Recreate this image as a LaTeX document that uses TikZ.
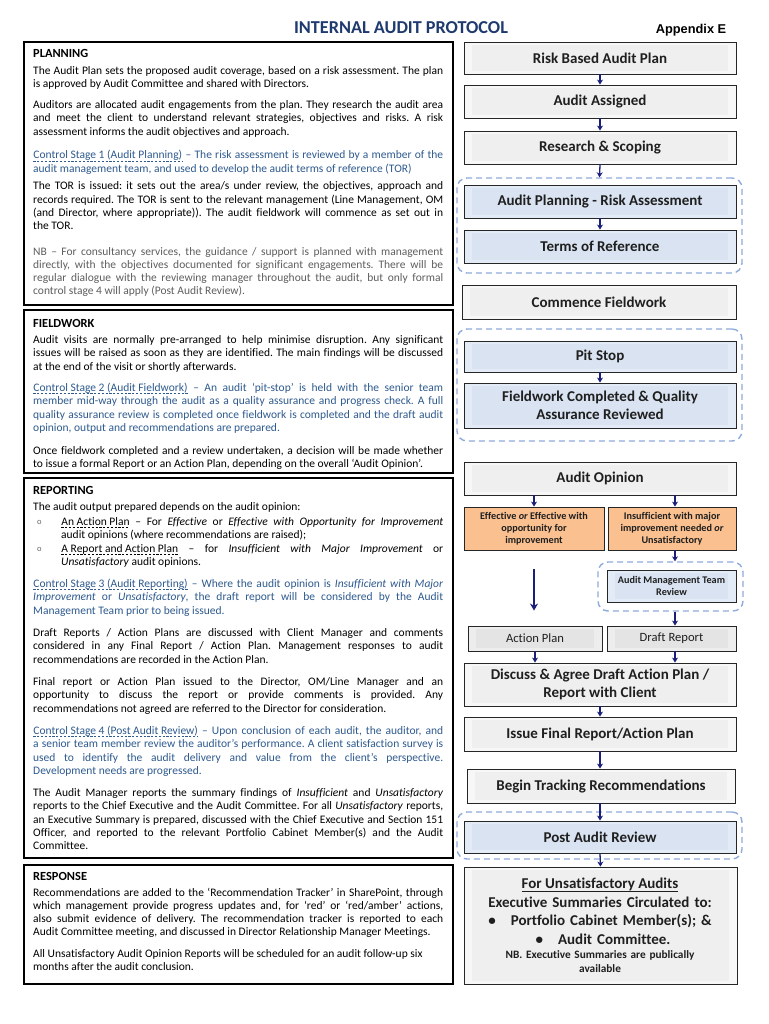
\documentclass[tikz,border=0pt]{standalone}
\usepackage{fontspec}
\setmainfont{Carlito}[Ligatures=NoCommon]
\newfontfamily\arialfont{Liberation Sans}
\usetikzlibrary{arrows.meta,calc}
\definecolor{ctrlblue}{HTML}{2E5A8E}
\definecolor{nbgray}{HTML}{5E5E5E}
\definecolor{titleblue}{HTML}{1F3A6E}
\definecolor{arrnavy}{HTML}{1A1F7A}
\definecolor{grpblue}{HTML}{8FAADC}
\definecolor{grayout}{HTML}{F7F7F7}
\definecolor{grayin}{HTML}{EFEFEF}
\definecolor{blueout}{HTML}{E3EBF6}
\definecolor{bluein}{HTML}{D9E3F1}
\definecolor{boxorange}{HTML}{FAC090}
\definecolor{midout}{HTML}{EDEDED}
\definecolor{midin}{HTML}{E4E4E4}
\newcommand\bodysize{\fontsize{11.5}{13.3}\selectfont\frenchspacing}
\newcommand\dul[2][ctrlblue]{\tikz[baseline=(u.base)]{\node[inner sep=0pt,outer sep=0pt,anchor=base,text width={},align=none,minimum width=0pt,minimum height=0pt,draw=none,fill=none](u){#2};\draw[draw=#1,dash pattern=on 2.2pt off 1.6pt,line width=0.5pt]([yshift=-2pt]u.base west)--([yshift=-2pt]u.base east);}}
\newcommand\sul[1]{\tikz[baseline=(u.base)]{\node[inner sep=0pt,outer sep=0pt,anchor=base,text width={},align=none,minimum width=0pt,minimum height=0pt,draw=none,fill=none,path picture={}](u){#1};\draw[draw=black!88,line width=0.9pt]([yshift=-2.6pt]u.base west)--([yshift=-2.6pt]u.base east);}}
\begin{document}
\begin{tikzpicture}[x=1pt,y=-1pt,
  panel/.style={draw=black, line width=1.1pt},
  head/.style={anchor=base west, inner sep=0pt, font=\fontsize{12.4}{14}\selectfont\bfseries},
  body/.style={anchor=base west, inner sep=0pt, text width=410pt, align=justify, font=\bodysize},
  bodyb/.style={body, text width=382pt},
  bul/.style={anchor=base west, inner sep=0pt, font=\fontsize{8.5}{10}\selectfont, text=black!60},
  bevel/.style={path picture={\fill[#1] ([xshift=8pt,yshift=-3pt]path picture bounding box.north west) rectangle ([xshift=-8pt,yshift=3pt]path picture bounding box.south east);}},
  fbox/.style={draw=black!85, line width=0.9pt, inner sep=1pt, align=center, text=black!88, font=\fontsize{15}{17.5}\selectfont\bfseries},
  gbox/.style={fbox, fill=grayout, bevel=grayin},
  bbox/.style={fbox, fill=blueout, bevel=bluein},
  mbox/.style={fbox, fill=midout, bevel=midin, font=\fontsize{12.6}{15}\selectfont},
  obox/.style={fbox, fill=boxorange, font=\fontsize{10.2}{12}\selectfont\bfseries},
  grp/.style={draw=grpblue, line width=1.4pt, dash pattern=on 6pt off 4pt, rounded corners=10pt, inner sep=0pt},
  arr/.style={draw=arrnavy, line width=1.3pt, -{Stealth[length=5pt,width=6pt]}},
  bigarr/.style={draw=arrnavy, line width=1.6pt, -{Stealth[length=7pt,width=8pt]}}
]
\useasboundingbox (0,0) rectangle (768,1024);
\fill[white] (0,0) rectangle (768,1024);

% ---------- title ----------
\node[font=\fontsize{18.2}{20}\selectfont\bfseries, text=titleblue] (title) at (401,28) {INTERNAL AUDIT PROTOCOL};
\node[font=\arialfont\bfseries\fontsize{12.8}{14}\selectfont] (appx) at (691,30) {Appendix E};

% ---------- left panels ----------
\draw[panel] (24,42) rectangle (453,305);
\draw[panel] (24,310) rectangle (453,473);
\draw[panel] (24,478) rectangle (453,858);
\draw[panel] (24,865) rectangle (453,984);

% PLANNING
\node[head] (plh) at (33,57.5) {PLANNING};
\node[body] (pl1) at (33,74.5) {The Audit Plan sets the proposed audit coverage, based on a risk assessment. The plan\linebreak is approved by Audit Committee and shared with Directors.};
\node[body] (pl2) at (33,108.5) {Auditors are allocated audit engagements from the plan. They research the audit area\linebreak and meet the client to understand relevant strategies, objectives and risks. A risk\linebreak assessment informs the audit objectives and approach.};
\node[body, text=ctrlblue] (pl3) at (33,159) {\dul{Control Stage 1 (Audit Planning)} – The risk assessment is reviewed by a member of the\linebreak audit management team, and used to develop the audit terms of reference (TOR)};
\node[body] (pl4) at (33,190) {The TOR is issued: it sets out the area/s under review, the objectives, approach and\linebreak records required. The TOR is sent to the relevant management (Line Management, OM\linebreak (and Director, where appropriate)). The audit fieldwork will commence as set out in\linebreak the TOR.};
\node[body, text=nbgray] (pl5) at (33,255) {NB – For consultancy services, the guidance / support is planned with management\linebreak directly, with the objectives documented for significant engagements. There will be\linebreak regular dialogue with the reviewing manager throughout the audit, but only formal\linebreak control stage 4 will apply (Post Audit Review).};

% FIELDWORK
\node[head] (fwh) at (33,327.5) {FIELDWORK};
\node[body] (fw1) at (33,343.5) {Audit visits are normally pre-arranged to help minimise disruption. Any significant\linebreak issues will be raised as soon as they are identified. The main findings will be discussed\linebreak at the end of the visit or shortly afterwards.};
\node[body, text=ctrlblue] (fw2) at (33,391.5) {\dul{Control Stage 2 (Audit Fieldwork)} – An audit ‘pit-stop’ is held with the senior team\linebreak member mid-way through the audit as a quality assurance and progress check. A full\linebreak quality assurance review is completed once fieldwork is completed and the draft audit\linebreak opinion, output and recommendations are prepared.};
\node[body] (fw3) at (33,454.5) {Once fieldwork completed and a review undertaken, a decision will be made whether\linebreak to issue a formal Report or an Action Plan, depending on the overall ‘Audit Opinion’.};

% REPORTING
\node[head] (rph) at (33,494.5) {REPORTING};
\node[body] (rp1) at (33,510.5) {The audit output prepared depends on the audit opinion:};
\node[bul] (rpo1) at (37,524) {o};
\node[bodyb] (rpb1) at (61,525) {\dul[black]{An Action Plan} – For \emph{Effective} or \emph{Effective with Opportunity for Improvement}\linebreak audit opinions (where recommendations are raised);};
\node[bul] (rpo2) at (37,551) {o};
\node[bodyb] (rpb2) at (61,552) {\dul[black]{A Report and Action Plan} – for \emph{Insufficient with Major Improvement} or\linebreak \emph{Unsatisfactory} audit opinions.};
\node[body, text=ctrlblue] (rp3) at (33,587.5) {\dul{Control Stage 3 (Audit Reporting)} – Where the audit opinion is \emph{Insufficient with Major}\linebreak \emph{Improvement} or \emph{Unsatisfactory}, the draft report will be considered by the Audit\linebreak Management Team prior to being issued.};
\node[body] (rp4) at (33,636.5) {Draft Reports / Action Plans are discussed with Client Manager and comments\linebreak considered in any Final Report / Action Plan. Management responses to audit\linebreak recommendations are recorded in the Action Plan.};
\node[body] (rp5) at (33,685.5) {Final report or Action Plan issued to the Director, OM/Line Manager and an\linebreak opportunity to discuss the report or provide comments is provided. Any\linebreak recommendations not agreed are referred to the Director for consideration.};
\node[body, text=ctrlblue] (rp6) at (33,734.5) {\dul{Control Stage 4 (Post Audit Review)} – Upon conclusion of each audit, the auditor, and\linebreak a senior team member review the auditor’s performance. A client satisfaction survey is\linebreak used to identify the audit delivery and value from the client’s perspective.\linebreak Development needs are progressed.};
\node[body] (rp7) at (33,796.5) {The Audit Manager reports the summary findings of \emph{Insufficient} and \emph{Unsatisfactory}\linebreak reports to the Chief Executive and the Audit Committee. For all \emph{Unsatisfactory} reports,\linebreak an Executive Summary is prepared, discussed with the Chief Executive and Section 151\linebreak Officer, and reported to the relevant Portfolio Cabinet Member(s) and the Audit\linebreak Committee.};

% RESPONSE
\node[head] (rsh) at (33,880.5) {RESPONSE};
\node[body] (rs1) at (33,896) {Recommendations are added to the ‘Recommendation Tracker’ in SharePoint, through\linebreak which management provide progress updates and, for ‘red’ or ‘red/amber’ actions,\linebreak also submit evidence of delivery. The recommendation tracker is reported to each\linebreak Audit Committee meeting, and discussed in Director Relationship Manager Meetings.};
\node[body] (rs2) at (33,957) {All Unsatisfactory Audit Opinion Reports will be scheduled for an audit follow-up six\newline months after the audit conclusion.};

% ---------- right column ----------
\node[grp, minimum width=285pt, minimum height=95pt] (g1) at (599.5,225.5) {};
\node[grp, minimum width=285pt, minimum height=112pt] (g2) at (599.5,385) {};
\node[grp, minimum width=145pt, minimum height=49pt] (g3) at (670.5,586.5) {};
\node[grp, minimum width=285pt, minimum height=47pt] (g4) at (599.5,835.5) {};

\node[gbox, minimum width=272pt, minimum height=32pt] (rbap) at (600,58) {Risk Based Audit Plan};
\node[gbox, minimum width=272pt, minimum height=33pt] (assigned) at (600,101.5) {Audit Assigned};
\node[gbox, minimum width=272pt, minimum height=33pt] (research) at (600,147.5) {Research \& Scoping};
\node[bbox, minimum width=272pt, minimum height=33pt] (planning) at (600,201.5) {Audit Planning - Risk Assessment};
\node[bbox, minimum width=272pt, minimum height=33pt] (tor) at (600,246.5) {Terms of Reference};
\node[gbox, minimum width=274pt, minimum height=34pt] (commence) at (599,302) {Commence Fieldwork};
\node[bbox, minimum width=272pt, minimum height=31pt] (pit) at (600,356.5) {Pit Stop};
\node[bbox, minimum width=272pt, minimum height=45pt] (fcqa) at (600,405.5) {Fieldwork Completed \& Quality\\Assurance Reviewed};
\node[gbox, minimum width=272pt, minimum height=33pt] (opinion) at (600,478.5) {Audit Opinion};
\node[obox, minimum width=140pt, minimum height=43pt] (eff) at (534,528.5) {Effective \textit{or} Effective with\\opportunity for\\improvement};
\node[obox, minimum width=128pt, minimum height=43pt] (ins) at (672,528.5) {Insufficient with major\\improvement needed \textit{or}\\Unsatisfactory};
\node[bbox, minimum width=129pt, minimum height=32pt, font=\fontsize{10.2}{12}\selectfont\bfseries] (amt) at (671.5,586) {Audit Management Team\\Review};
\node[mbox, minimum width=134pt, minimum height=25pt] (actionplan) at (535,638.5) {Action Plan};
\node[mbox, minimum width=129pt, minimum height=25pt] (draft) at (671.5,638.5) {Draft Report};
\node[gbox, minimum width=272pt, minimum height=43pt] (discuss) at (600,684.5) {Discuss \& Agree Draft Action Plan /\\Report with Client};
\node[gbox, minimum width=272pt, minimum height=34pt] (issue) at (600,734) {Issue Final Report/Action Plan};
\node[gbox, minimum width=268pt, minimum height=34pt] (tracking) at (601,786) {Begin Tracking Recommendations};
\node[bbox, minimum width=272pt, minimum height=32pt] (par) at (600,837) {Post Audit Review};
\node[gbox, minimum width=273pt, minimum height=117pt] (final) at (600.5,925.5) {};
\node[anchor=base, inner sep=0pt, text width=268pt, align=center, font=\fontsize{15}{18.5}\selectfont\bfseries, text=black!88] (fintext) at (600,888.5) {\sul{For Unsatisfactory Audits}\\Executive Summaries Circulated to:\\•\hspace{15pt}Portfolio Cabinet Member(s); \&\\\hspace{6pt}•\hspace{15pt}Audit Committee.};
\node[anchor=base, inner sep=0pt, text width=265pt, align=center, font=\fontsize{11.3}{14}\selectfont\bfseries, text=black!88] (finnb) at (600,958) {NB. Executive Summaries are publically\\available};

% ---------- arrows ----------
\draw[arr] (rbap.south) -- (assigned.north);
\draw[arr] (assigned.south) -- (research.north);
\draw[arr] (research.south) -- (g1.north);
\draw[arr] (planning.south) -- (tor.north);
\draw[arr] (pit.south) -- (fcqa.north);
\draw[arr] (opinion.south -| eff.north) -- (eff.north);
\draw[arr] ([xshift=3pt]opinion.south -| ins.north) -- ([xshift=3pt]ins.north);
\draw[arr] ([xshift=3pt]ins.south) -- ([xshift=3pt]ins.south |- g3.north);
\draw[arr] ([xshift=3.5pt]g3.south -| draft.north) -- ([xshift=3.5pt]draft.north);
\draw[bigarr, shorten <=19pt, shorten >=15pt] (eff.south) -- (eff.south |- actionplan.north);
\draw[arr] (actionplan.south) -- (actionplan.south |- discuss.north);
\draw[arr] ([xshift=3.5pt]draft.south) -- ([xshift=3.5pt]draft.south |- discuss.north);
\draw[arr] (discuss.south) -- (issue.north);
\draw[arr] (issue.south) -- (issue.south |- tracking.north);
\draw[arr] (issue.south |- tracking.south) -- (issue.south |- par.north);
\draw[arr] (par.south) -- (final.north);
\end{tikzpicture}
\end{document}
